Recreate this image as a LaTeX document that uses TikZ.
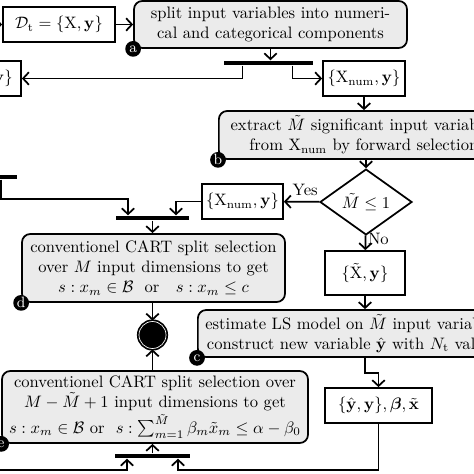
\documentclass[tikz,border=0pt]{standalone}
\usepackage{amsmath}
\usepackage{amssymb}
\usepackage{tikz}
\usetikzlibrary{arrows.meta}
\usetikzlibrary{calc}
\usetikzlibrary{shapes.geometric}

\newcommand{\px}{0.603pt}

\tikzset{
  plain/.style={draw, rectangle, fill=white, inner sep=2pt},
  task/.style={draw, rectangle, rounded corners=5pt, fill=black!8, align=center, inner sep=2pt},
  badge/.style={circle, fill=black, text=white, inner sep=0pt, minimum size=9.5pt, font=\small},
  forkbar/.style={rectangle, fill=black, inner sep=0pt, minimum height=2.2pt},
}

\begin{document}
\begin{tikzpicture}[x=\px, y=-\px, line width=1.05pt, >={Straight Barb[length=3.5pt,width=7.5pt]}]

    \useasboundingbox (0,0) rectangle (474,474);
    \clip (0,0) rectangle (474,474);

    % upper part
    \node (data) [plain, minimum width=112*\px, minimum height=35*\px] at (59,24.5) {$\mathcal{D}_\mathrm{t}=\{\mathrm{X},\mathbf{y}\}$};
    \node (split) [task, minimum width=273*\px, minimum height=47*\px] at (270.5,24.5) {split input variables into numeri-\\cal and categorical components};
    \node (bada) [badge] at (split.south west) {a};
    \node (fork1) [forkbar, minimum width=89*\px] at (268.5,63) {};
    \node (catset) [plain, minimum width=82*\px, minimum height=35*\px] at (-20,78.5) {$\{\mathrm{X}_\mathrm{cat},\mathbf{y}\}$};
    \node (numset) [plain, minimum width=82*\px, minimum height=35*\px] at (364,78.5) {$\{\mathrm{X}_\mathrm{num},\mathbf{y}\}$};
    \node (extract) [task, minimum width=290*\px, minimum height=48*\px, inner xsep=5pt, anchor=west] at (218,135) {extract $\tilde{M}$ significant input variables\\from $\mathrm{X}_\mathrm{num}$ by forward selection};
    \node (badb) [badge] at (extract.south west) {b};
    \node (check) [draw, diamond, fill=white, inner sep=0pt, minimum width=92*\px, minimum height=54*\px] at (366,202) {$\tilde{M}\leq 1$};
    \node (numsettwo) [plain, minimum width=81*\px, minimum height=35*\px] at (242.5,201.5) {$\{\mathrm{X}_\mathrm{num},\mathbf{y}\}$};
    \node (tildeset) [plain, minimum width=80*\px, minimum height=44*\px] at (365,273) {$\{\tilde{\mathrm{X}},\mathbf{y}\}$};
    \node (lsmodel) [task, minimum width=296*\px, minimum height=47*\px, inner xsep=4.5pt, anchor=west] at (197,333.5) {estimate LS model on $\tilde{M}$ input variables\\construct new variable $\hat{\mathbf{y}}$ with $N_\mathrm{t}$ values};
    \node (badc) [badge] at (lsmodel.south west) {c};
    \node (result) [plain, minimum width=107*\px, minimum height=35*\px] at (378.5,405.5) {$\{\hat{\mathbf{y}},\mathbf{y}\},\boldsymbol{\beta},\tilde{\mathbf{x}}$};

    % left part
    \node (fork0) [forkbar, minimum width=50*\px] at (-8,177) {};
    \node (forktwo) [forkbar, minimum width=73*\px] at (152.5,218) {};
    \node (cartd) [task, minimum width=263*\px, minimum height=68*\px] at (153.5,268) {conventionel CART split selection\\over $M$ input dimensions to get\\$s: x_m\in\mathcal{B}$\ \ or\quad$s: x_m\leq c$};
    \node (badd) [badge] at (cartd.south west) {d};
    \node (join) [circle, fill=black, draw, double=white, double distance=0.4pt, minimum size=27*\px] at (152.5,335) {};
    \node (carte) [task, minimum width=306*\px, minimum height=72*\px] at (155,407) {conventionel CART split selection over\\$M-\tilde{M}+1$ input dimensions to get\\[1pt]$s: x_m\in\mathcal{B}$ or\ \ $s: \sum_{m=1}^{\tilde{M}}\beta_m\tilde{x}_m\leq\alpha-\beta_0$};
    \node (bade) [badge] at (carte.south west) {e};
    \node (forkthree) [forkbar, minimum width=75*\px] at (152.5,456) {};

    % connectors
    \coordinate (in) at (-20,24.5);
    \draw [->] (in) -- (data);
    \draw [->] (data) -- (split);
    \draw [->] (split.south) -- (split.south |- fork1.north);
    \draw [->] ($(fork1.south)+(-26,0)$) |- (catset);
    \draw [->] ($(fork1.south)+(24,0)$) |- (numset);
    \draw [->] (numset.south) -- (numset.south |- extract.north);
    \draw [->] (check.north |- extract.south) -- (check);
    \draw [->] (check) -- node [above, pos=0.4] {Yes} (numsettwo);
    \draw [->] (check) -- node [right, pos=0.25, inner sep=1pt] {No} (tildeset);
    \draw [->] (tildeset) -- (tildeset.south |- lsmodel.north);
    \draw [->] (tildeset.south |- lsmodel.south) -- ++(0,15) -| (result);
    \coordinate (loopr) at (178,470);
    \coordinate (loopl) at (-10,470);
    \draw [->] (result) |- (loopr) -- (loopr |- forkthree.south);
    \draw [->] (loopl) -| ($(forkthree.south)+(-25.5,0)$);
    \draw [->] (forkthree) -- (forkthree |- carte.south);
    \draw [->] (join |- carte.north) -- (join);
    \draw [->] (join |- cartd.south) -- (join);
    \draw [->] ($(fork0.south)+(9,0)$) |- ($(forktwo.north)+(-24.5,-16)$) -- ($(forktwo.north)+(-24.5,0)$);
    \draw [->] (numsettwo) -| ($(forktwo.north)+(23.5,0)$);
    \draw [->] (forktwo) -- (forktwo |- cartd.north);

\end{tikzpicture}
\end{document}
